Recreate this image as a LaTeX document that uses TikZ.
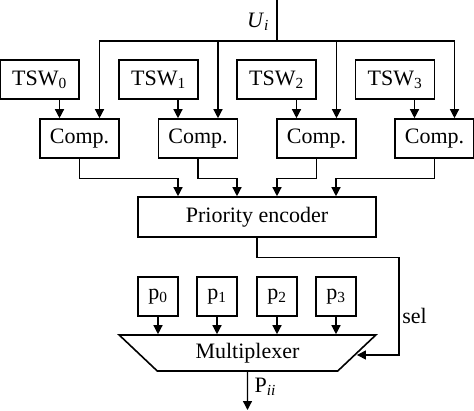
\documentclass[tikz,border=0pt]{standalone}
\usepackage{fontspec}
\setmainfont{Liberation Serif}
\usetikzlibrary{arrows.meta, shapes.geometric}

\begin{document}
\begin{tikzpicture}[
  x=1pt, y=-1pt,
  line width=1.3pt,
  blk/.style={rectangle, draw, line width=1.6pt, minimum width=79pt, minimum height=39pt,
              inner sep=0pt, font=\fontsize{22}{26}\selectfont},
  pbox/.style={blk, minimum width=40pt},
  lbl/.style={inner sep=0pt, font=\fontsize{22}{26}\selectfont},
  arr/.style={-{Triangle[length=9pt, width=9pt]}}
]
  \useasboundingbox (0,0) rectangle (474,410);

  % thresholds and comparators
  \node[blk] (t0) at (39.5,79.5) {TSW\textsubscript{0}};
  \node[blk] (t1) at (158.5,79.5) {TSW\textsubscript{1}};
  \node[blk] (t2) at (276.5,79.5) {TSW\textsubscript{2}};
  \node[blk] (t3) at (395,79.5) {TSW\textsubscript{3}};
  \node[blk] (c0) at (79.5,138.5) {Comp.};
  \node[blk] (c1) at (198,138.5) {Comp.};
  \node[blk] (c2) at (316.5,138.5) {Comp.};
  \node[blk] (c3) at (434.5,138.5) {Comp.};

  \node[blk, minimum width=238pt, minimum height=40pt] (enc) at (257,217) {Priority encoder};

  \node[pbox] (p0) at (158,296.5) {p\textsubscript{0}};
  \node[pbox] (p1) at (217,296.5) {p\textsubscript{1}};
  \node[pbox] (p2) at (277,296.5) {p\textsubscript{2}};
  \node[pbox] (p3) at (336,296.5) {p\textsubscript{3}};

  \node[draw, line width=1.6pt, trapezium, shape border rotate=180, trapezium angle=42.3,
        trapezium stretches=true, minimum width=257pt, minimum height=36pt,
        inner sep=0pt, font=\fontsize{22}{26}\selectfont] (mux) at (247.5,353) {Multiplexer};

  % labels
  \node[lbl, anchor=base] (uilab) at (258,27) {\textit{U}\textsubscript{\textit{i}}};
  \node[lbl, anchor=base] (sel) at (414.5,323) {sel};
  \node[lbl, anchor=base west] (pii) at (254,392) {P\textsubscript{\textit{ii}}};

  % input bus
  \coordinate (ui) at (277,0);
  \coordinate (bus) at (277,41);
  \draw (ui) -- (bus);
  \draw[arr] (bus) -| ([xshift=20pt]c0.north);
  \draw[arr] (bus) -| ([xshift=20pt]c3.north);
  \draw[arr] ([xshift=20pt]c1.north |- bus) -- ([xshift=20pt]c1.north);
  \draw[arr] ([xshift=20pt]c2.north |- bus) -- ([xshift=20pt]c2.north);

  \draw[arr] ([xshift=-20pt]c0.north |- t0.south) -- ([xshift=-20pt]c0.north);
  \draw[arr] ([xshift=-20pt]c1.north |- t1.south) -- ([xshift=-20pt]c1.north);
  \draw[arr] ([xshift=-20pt]c2.north |- t2.south) -- ([xshift=-20pt]c2.north);
  \draw[arr] ([xshift=-20pt]c3.north |- t3.south) -- ([xshift=-20pt]c3.north);

  % comparator outputs
  \draw[arr] (c0.south) -- ++(0,20) -| ([xshift=-79pt]enc.north);
  \draw[arr] (c1.south) -- ++(0,20) -| ([xshift=-20pt]enc.north);
  \draw[arr] (c2.south) -- ++(0,20) -| ([xshift=20pt]enc.north);
  \draw[arr] (c3.south) -- ++(0,20) -| ([xshift=79pt]enc.north);

  % select and data
  \draw[arr] (enc.south) -- ++(0,20) -| ([xshift=41pt,yshift=-2pt]mux.east) -- ([xshift=-1pt,yshift=-2pt]mux.east);
  \draw[arr] (p0.south) -- (p0.south |- mux.north);
  \draw[arr] (p1.south) -- (p1.south |- mux.north);
  \draw[arr] (p2.south) -- (p2.south |- mux.north);
  \draw[arr] (p3.south) -- (p3.south |- mux.north);

  \coordinate (out) at (247.5,410);
  \draw[arr] (mux.south) -- (out);
\end{tikzpicture}
\end{document}
